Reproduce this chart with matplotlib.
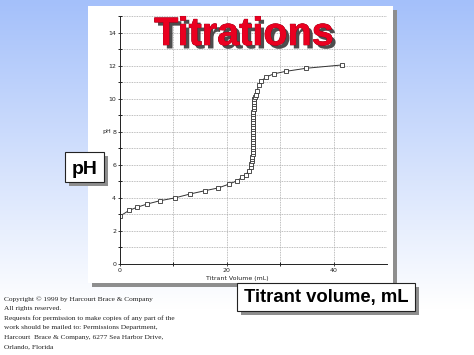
import numpy as np
import matplotlib
matplotlib.use("Agg")
import matplotlib.pyplot as plt
from matplotlib.patches import Rectangle
import matplotlib.patheffects as pe

# ---- data ----
volume_ml = [0.0, 1.75, 3.2, 5.0, 7.4, 10.3, 13.2, 16.0, 18.4, 20.4, 21.9, 22.9, 23.6, 24.1,
             24.45, 24.6, 24.7, 24.75, 24.8, 24.82, 24.85, 24.87, 24.88, 24.9, 24.9, 24.91,
             24.92, 24.92, 24.93, 24.93, 24.94, 24.95, 24.95, 24.96, 24.97, 24.98, 24.99,
             25.0, 25.02, 25.05, 25.1, 25.15, 25.25, 25.4, 25.65, 26.0, 26.45, 27.3, 28.8,
             31.0, 34.9, 41.6]
ph = [2.9, 3.25, 3.43, 3.62, 3.82, 4.0, 4.24, 4.44, 4.6, 4.83, 5.03, 5.25, 5.41, 5.62,
      5.84, 6.04, 6.2, 6.35, 6.5, 6.65, 6.8, 6.95, 7.1, 7.25, 7.4, 7.55, 7.7, 7.85, 8.0,
      8.15, 8.3, 8.45, 8.6, 8.75, 8.9, 9.05, 9.2, 9.35, 9.5, 9.65, 9.8, 9.95, 10.1, 10.25,
      10.45, 10.85, 11.05, 11.3, 11.5, 11.65, 11.84, 12.04]
y_ticks = [0, 2, 4, 6, 8, 10, 12, 14]
x_ticks = [0, 20, 40]
title_text = "Titrations"
y_box_label = "pH"
x_box_label = "Titrant volume, mL"
copyright_lines = [
    "Copyright \u00a9 1999 by Harcourt Brace & Company",
    "All rights reserved.",
    "Requests for permission to make copies of any part of the",
    "work should be mailed to: Permissions Department,",
    "Harcourt  Brace & Company, 6277 Sea Harbor Drive,",
    "Orlando, Florida",
]

W, H = 474, 355
fig = plt.figure(figsize=(W / 100, H / 100), dpi=100)

# background gradient
bg = fig.add_axes([0, 0, 1, 1], zorder=-10)
grad = np.linspace(0, 1, 256)[:, None]
top = np.array([164, 192, 250]) / 255.0
bot = np.array([255, 255, 255]) / 255.0
t = np.clip(grad * 1.15, 0, 1)
img = (top[None, None, :] * (1 - t[:, :, None]) + bot[None, None, :] * t[:, :, None])
img = np.repeat(img, 2, axis=1)
bg.imshow(img, aspect="auto", extent=[0, 1, 0, 1], origin="upper")
bg.set_xlim(0, 1)
bg.set_ylim(0, 1)
bg.axis("off")

def px_rect(x0, y0, x1, y1, **kw):
    return Rectangle((x0 / W, 1 - y1 / H), (x1 - x0) / W, (y1 - y0) / H,
                     transform=fig.transFigure, **kw)

# panel with shadow
bg.add_patch(px_rect(92, 10, 397, 287, facecolor="#8e8e8e", edgecolor="none"))
bg.add_patch(px_rect(88, 6, 393, 283, facecolor="white", edgecolor="none"))

# main axes
ax = fig.add_axes([120 / W, 1 - 264 / H, (387 - 120) / W, (264 - 16) / H])
ax.set_facecolor("none")
ax.set_xlim(0, 50)
ax.set_ylim(0, 15)
ax.set_xticks(x_ticks)
ax.set_xticks([10, 30], minor=True)
ax.set_yticks(y_ticks)
ax.set_yticks([1, 3, 5, 7, 9, 11, 13, 15], minor=True)
ax.tick_params(labelsize=4.5, length=2.5, width=0.6, pad=1.5, colors="#222222",
               direction="inout")
ax.tick_params(which="minor", length=2.5, width=0.6, direction="inout")
for s in ["top", "right"]:
    ax.spines[s].set_visible(False)
for s in ["left", "bottom"]:
    ax.spines[s].set_linewidth(0.7)
    ax.spines[s].set_color("#222222")
ax.grid(True, which="both", color="#a8a8a8", linestyle=(0, (1, 1)), linewidth=0.6)
ax.set_axisbelow(True)

ax.plot(volume_ml, ph, color="#333333", linewidth=0.7, marker="s", markersize=2.5,
        markerfacecolor="white", markeredgecolor="#333333", markeredgewidth=0.6)

ax.text(-1.7, 8.0, "pH", fontsize=4.5, ha="right", va="center", color="#222222")
ax.text(22.0, -0.75, "Titrant Volume (mL)", fontsize=4.5, ha="center", va="top",
        color="#222222")

# title
fig.text(244 / W, 1 - 45 / H, title_text, fontsize=28.5, fontweight="bold",
         family="Liberation Sans", color="#ea0020", ha="center", va="baseline",
         path_effects=[pe.withSimplePatchShadow(offset=(2.5, -2.5), shadow_rgbFace="#3a3a3a",
                                                alpha=0.9),
                       pe.Stroke(linewidth=0.5, foreground="#900018"), pe.Normal()])

# pH box
bg.add_patch(px_rect(69, 156, 108, 186, facecolor="#8e8e8e", edgecolor="none"))
bg.add_patch(px_rect(65, 152, 104, 182, facecolor="white", edgecolor="#222222",
                     linewidth=0.8))
fig.text(84.5 / W, 1 - 174 / H, y_box_label, fontsize=14, fontweight="bold",
         family="Liberation Sans", ha="center", va="baseline", color="black")

# x label box
bg.add_patch(px_rect(241, 287, 419, 315, facecolor="#8e8e8e", edgecolor="none"))
bg.add_patch(px_rect(237, 283, 415, 311, facecolor="white", edgecolor="#222222",
                     linewidth=0.8))
fig.text(326 / W, 1 - 302 / H, x_box_label, fontsize=13.3, fontweight="bold",
         family="Liberation Sans", ha="center", va="baseline", color="black")

# copyright
for i, line in enumerate(copyright_lines):
    fig.text(4 / W, 1 - (299 + i * 9.6) / H, line, fontsize=5.3,
             family="Liberation Serif", ha="left", va="center", color="#222222")

fig.savefig("out.png", dpi=100)
